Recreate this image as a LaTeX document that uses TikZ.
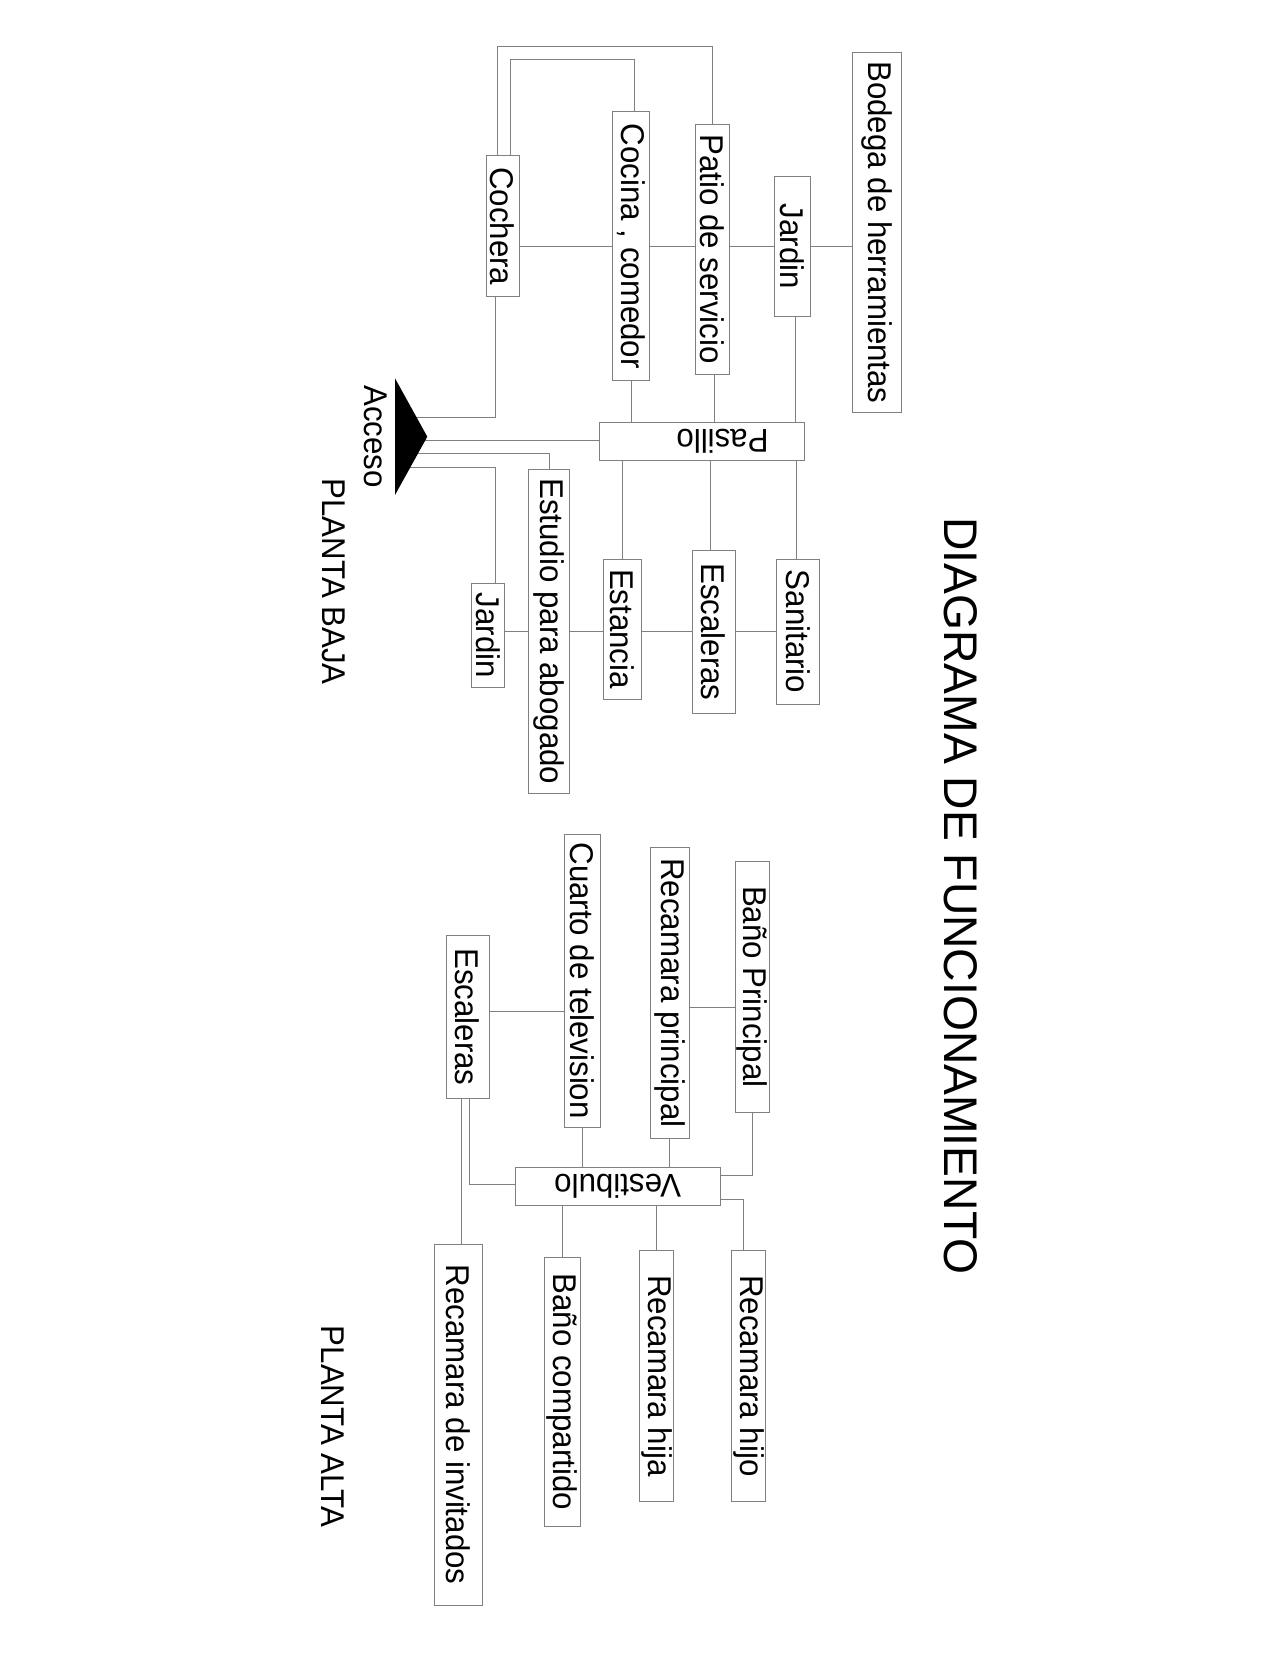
\documentclass[tikz,border=0pt]{standalone}
\usepackage{graphicx}
\usepackage{fontspec}
\setmainfont{Liberation Sans}
\newfontfamily\labfont[FakeStretch=0.95]{Liberation Sans}
\newfontfamily\titfont[FakeStretch=0.98]{Liberation Sans}
\usetikzlibrary{fit}
\definecolor{ln}{RGB}{128,128,128}
\tikzset{
  box/.style={draw=ln, line width=0.5pt, inner sep=0pt, fill=white},
  conn/.style={draw=ln, line width=0.5pt},
  lab/.style={font=\labfont\fontsize{16.45}{19}\selectfont, inner sep=0pt},
  titl/.style={font=\titfont\fontsize{23.6}{28}\selectfont, inner sep=0pt},
}
\newcommand\vt[1]{\rotatebox{-90}{#1}}
\begin{document}
\begin{tikzpicture}[x=0.5pt,y=-0.5pt]
\useasboundingbox (0,0) rectangle (1280,1656);
\fill[white] (0,0) rectangle (1280,1656);

% ---------- PLANTA BAJA boxes ----------
\node[box,lab,fit={(486,155.7)(519.3,296.7)}] (cochera) {\vt{Cochera}};
\node[box,lab,fit={(612.7,111.7)(649.3,380.7)}] (cocina) {\vt{Cocina , comedor}};
\node[box,lab,fit={(695.7,124)(729.3,374)}] (patio) {\vt{Patio de servicio}};
\node[box,lab,fit={(774.3,176.7)(810.3,316)}] (jardina) {\vt{Jardin}};
\node[box,lab,fit={(852.3,52.3)(901,412.7)}] (bodega) {\vt{Bodega de herramientas}};
\node[box,fit={(599.3,422.3)(804,460)}] (pasillo) {};
\node[lab,rotate=180] (pasillot) at (722.5,441) {Pasillo};
\node[box,lab,fit={(471.7,583.3)(504,687.7)}] (jardinb) {\vt{Jardin}};
\node[box,lab,fit={(528.7,469.3)(569.3,793.3)}] (estudio) {\vt{Estudio para abogado}};
\node[box,lab,fit={(603.7,559)(641.7,699)}] (estancia) {\vt{Estancia}};
\node[box,lab,fit={(692,550.7)(735.3,713.3)}] (escalerasa) {\vt{Escaleras}};
\node[box,lab,fit={(776.7,559)(819.3,704.3)}] (sanitario) {\vt{Sanitario}};

% ---------- PLANTA ALTA boxes ----------
\node[box,lab,fit={(446,935.7)(489.3,1098.3)}] (escalerasb) {\vt{Escaleras}};
\node[box,lab,fit={(564.7,834.3)(600.3,1127)}] (cuarto) {\vt{Cuarto de television}};
\node[box,lab,fit={(650,847.3)(689.3,1138.7)}] (recprin) {\vt{Recamara principal}};
\node[box,lab,fit={(735.3,861.7)(769.3,1112)}] (banop) {\vt{Baño Principal}};
\node[box,lab,fit={(515.5,1167)(720,1205.3)}] (vest) {\rotatebox{180}{Vestibulo}};
\node[box,lab,fit={(434.3,1244.3)(482.3,1605)}] (recinv) {\vt{Recamara de invitados}};
\node[box,lab,fit={(544.3,1257.7)(580.7,1526)}] (banoc) {\vt{Baño compartido}};
\node[box,lab,fit={(639.3,1250.7)(673.7,1501)}] (rechija) {\vt{Recamara hija}};
\node[box,lab,fit={(731.7,1250.7)(765.7,1501)}] (rechijo) {\vt{Recamara hijo}};

% ---------- texts ----------
\node[titl,rotate=-90] (title) at (960.3,895.8) {DIAGRAMA DE FUNCIONAMIENTO};
\node[lab,rotate=-90] (accesot) at (375.3,436.7) {Acceso};
\node[lab,rotate=-90] (pbaja) at (333.3,581.7) {PLANTA BAJA};
\node[lab,rotate=-90] (palta) at (333.3,1426.5) {PLANTA ALTA};

% ---------- access points ----------
\coordinate (a1) at (415,417.7);
\coordinate (a2) at (422,440.7);
\coordinate (a3) at (415,453.3);
\coordinate (a4) at (410,467.7);

% ---------- connectors PLANTA BAJA ----------
\draw[conn] (cochera.east |- cocina.west) -- (cocina.west);
\draw[conn] (cocina.east) -- (patio.west |- cocina.east);
\draw[conn] (patio.east |- cocina.east) -- (jardina.west |- cocina.east);
\draw[conn] (jardina.east |- cocina.east) -- (bodega.west |- cocina.east);
\draw[conn] ([xshift=-2.5pt]cochera.north) -- ++(0,-108.4) -| (patio.north);
\draw[conn] ([xshift=4.15pt]cochera.north) -- ++(0,-95.7) -| ([xshift=1.5pt]cocina.north);
\draw[conn] ([xshift=-3.35pt]cochera.south) |- (a1);
\draw[conn] (cocina.south) -- (cocina.south |- pasillo.north);
\path ([xshift=0.9pt]patio.south) coordinate (p1);
\draw[conn] (p1) -- (p1 |- pasillo.north);
\path ([xshift=1.5pt]jardina.south) coordinate (j1);
\draw[conn] (j1) -- (j1 |- pasillo.north);
\draw[conn] (a2) -- (a2 -| pasillo.west);
\draw[conn] (a3) -| (estudio.north);
\draw[conn] (a4) -| ([xshift=3.95pt]jardinb.north);
\draw[conn] (estancia.north |- pasillo.south) -- (estancia.north);
\path ([xshift=-1.35pt]escalerasa.north) coordinate (e1);
\draw[conn] (e1 |- pasillo.south) -- (e1);
\path ([xshift=-1pt]sanitario.north) coordinate (s1);
\draw[conn] (s1 |- pasillo.south) -- (s1);
\draw[conn] (jardinb.east |- estudio.west) -- (estudio.west);
\draw[conn] (estudio.east) -- (estancia.west |- estudio.east);
\draw[conn] (estancia.east |- estudio.east) -- (escalerasa.west |- estudio.east);
\draw[conn] (escalerasa.east |- estudio.east) -- (sanitario.west |- estudio.east);

% ---------- access triangle ----------
\fill[black] (395,378.3) coordinate (tA) -- (427.3,436.7) coordinate (tB) -- (395,495) coordinate (tC) -- cycle;

% ---------- connectors PLANTA ALTA ----------
\path ([yshift=3pt]escalerasb.east) coordinate (t1);
\draw[conn] (t1) -- (t1 -| cuarto.west);
\path ([yshift=-7.15pt]recprin.east) coordinate (t2);
\draw[conn] (t2) -- (t2 -| banop.west);
\draw[conn] (cuarto.south) -- (cuarto.south |- vest.north);
\draw[conn] (recprin.south) -- (recprin.south |- vest.north);
\draw[conn] (banop.south) |- ([yshift=5.45pt]vest.east);
\path ([xshift=-3pt]escalerasb.south) coordinate (t3);
\draw[conn] (t3) -- (t3 |- recinv.north);
\draw[conn] ([xshift=1.15pt]escalerasb.south) |- ([yshift=1pt]vest.west);
\draw[conn] (banoc.north |- vest.south) -- (banoc.north);
\draw[conn] (rechija.north |- vest.south) -- (rechija.north);
\draw[conn] ([yshift=-6.5pt]vest.east) -| ([xshift=-2.5pt]rechijo.north);
\end{tikzpicture}
\end{document}
